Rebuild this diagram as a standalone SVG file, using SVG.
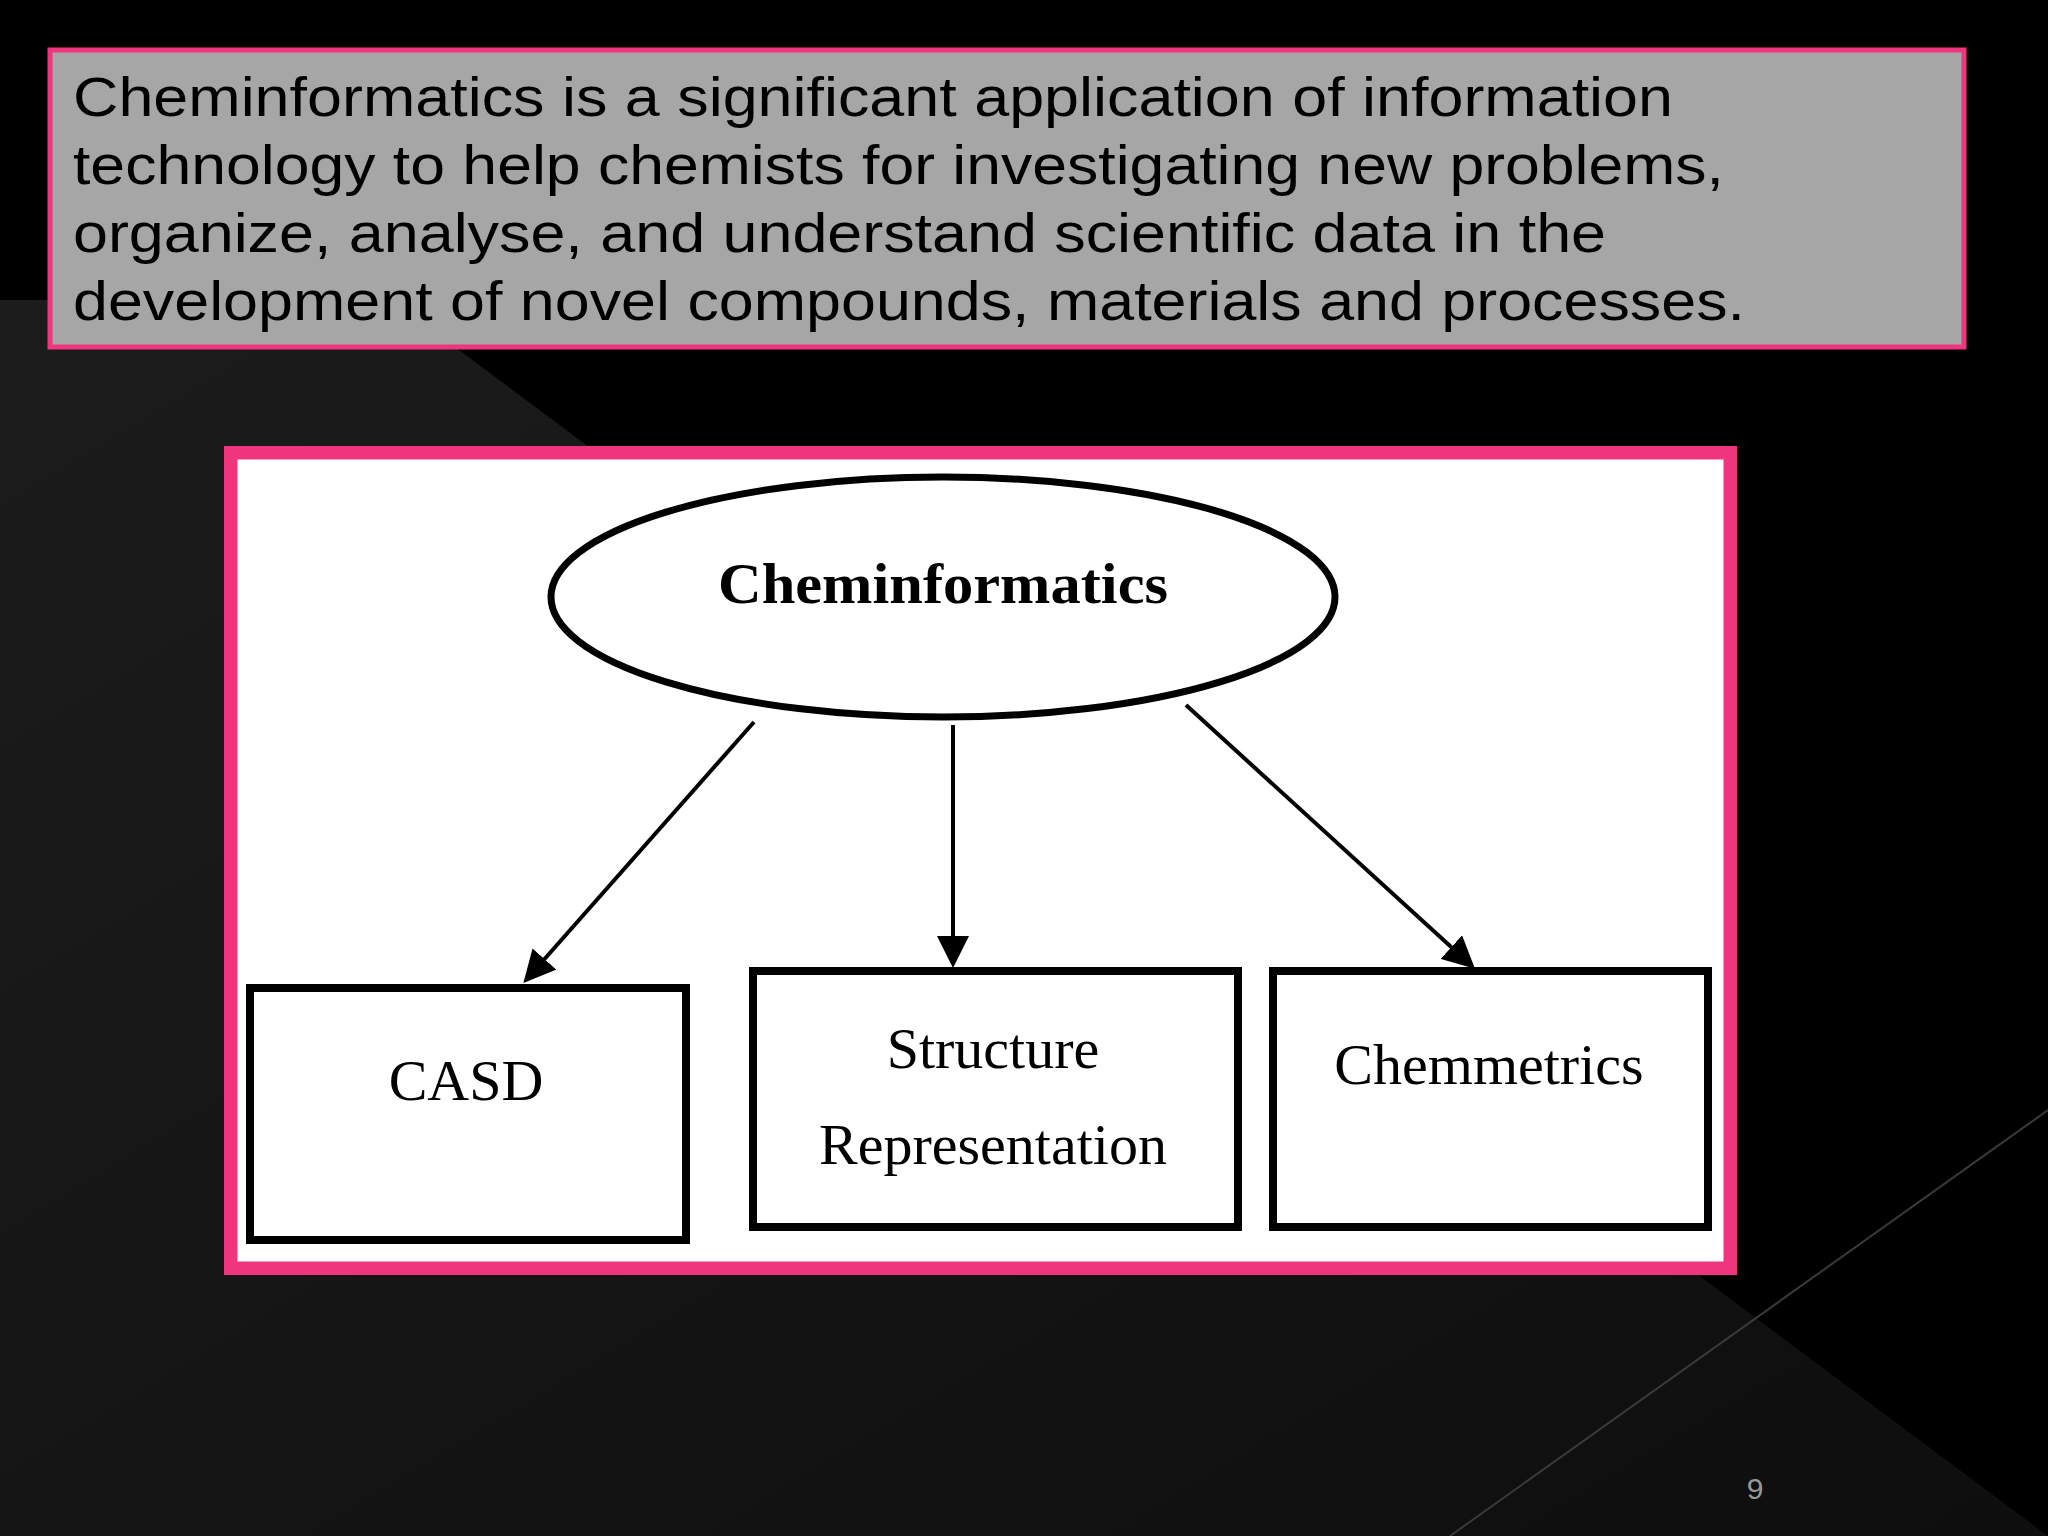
<svg xmlns="http://www.w3.org/2000/svg" width="2048" height="1536" viewBox="0 0 2048 1536">
<style>
.hd{font-family:"Liberation Sans","DejaVu Sans",sans-serif;font-size:56px;fill:#000}
.lb{font-family:"Liberation Serif","DejaVu Serif",serif;font-size:58px;fill:#000}
.bx{fill:#fff;stroke:#000;stroke-width:8}
.cn{stroke:#000;stroke-width:4;fill:none;marker-end:url(#ah)}
</style>
<defs>
<marker id="ah" markerWidth="8" markerHeight="8" refX="7" refY="4" orient="auto" markerUnits="strokeWidth">
<path d="M0,0 L8,4 L0,8 Z" fill="#000"/>
</marker>
<linearGradient id="bg" x1="0" y1="0" x2="1" y2="1">
<stop offset="0" stop-color="#1c1c1c"/><stop offset="1" stop-color="#0e0e0e"/>
</linearGradient>
</defs>
<rect width="2048" height="1536" fill="#000"/>
<polygon points="0,300 392,300 2048,1536 0,1536" fill="url(#bg)"/>
<line x1="1450" y1="1536" x2="2048" y2="1110" stroke="#3a3a3a" stroke-width="2"/>
<g id="header">
<rect x="50" y="50" width="1914" height="297" fill="#a6a6a6" stroke="#f0357f" stroke-width="5"/>
<text class="hd" x="73" y="116" textLength="1600" lengthAdjust="spacingAndGlyphs">Cheminformatics is a significant application of information</text>
<text class="hd" x="73" y="184" textLength="1651" lengthAdjust="spacingAndGlyphs">technology to help chemists for investigating new problems,</text>
<text class="hd" x="73" y="252" textLength="1533" lengthAdjust="spacingAndGlyphs">organize, analyse, and understand scientific data in the</text>
<text class="hd" x="73" y="320" textLength="1672" lengthAdjust="spacingAndGlyphs">development of novel compounds, materials and processes.</text>
</g>
<g id="frame">
<rect x="224" y="446" width="1513" height="829" fill="#f0357f"/>
<rect x="236" y="458" width="1489" height="805" fill="#fff" stroke="#f0357f" stroke-width="3"/>
<rect x="242" y="462" width="1477" height="797" fill="#fff"/>
</g>
<g id="connectors">
<line class="cn" x1="754" y1="722" x2="526" y2="980"/>
<line class="cn" x1="953" y1="725" x2="953" y2="964"/>
<line class="cn" x1="1186" y1="705" x2="1472" y2="966"/>
</g>
<g id="root">
<ellipse cx="943" cy="597" rx="392" ry="120" fill="#fff" stroke="#000" stroke-width="7"/>
<text class="lb" x="943" y="603" text-anchor="middle" font-weight="bold" font-size="66" textLength="450" lengthAdjust="spacingAndGlyphs">Cheminformatics</text>
</g>
<g id="casd">
<rect class="bx" x="250" y="988" width="436" height="252"/>
<text class="lb" x="466" y="1100" text-anchor="middle">CASD</text>
</g>
<g id="structure">
<rect class="bx" x="753" y="971" width="485" height="256"/>
<text class="lb" x="993" y="1068" text-anchor="middle">Structure</text>
<text class="lb" x="993" y="1164" text-anchor="middle">Representation</text>
</g>
<g id="chemmetrics">
<rect class="bx" x="1273" y="971" width="435" height="256"/>
<text class="lb" x="1489" y="1084" text-anchor="middle">Chemmetrics</text>
</g>
<text x="1755" y="1499" font-family="Liberation Sans,sans-serif" font-size="30" fill="#999" text-anchor="middle">9</text>
</svg>
